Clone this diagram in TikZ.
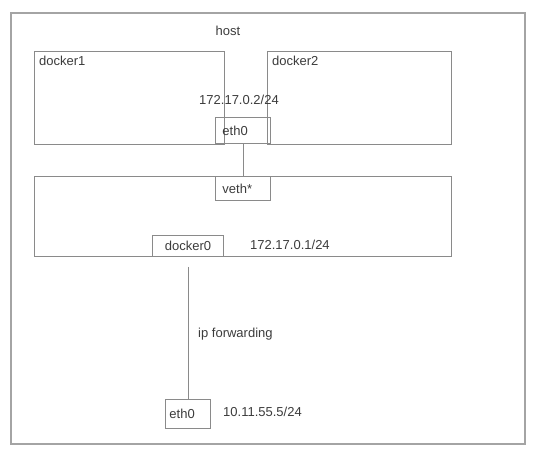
\documentclass[tikz,border=0pt]{standalone}
\usepackage{fontspec}
\setmainfont{Liberation Sans}
\begin{document}
\begin{tikzpicture}[x=1pt,y=-1pt,
  every node/.style={font=\fontsize{13}{15}\selectfont, text=txtc},
  box/.style={draw=linec, line width=0.9pt, rectangle, inner sep=0pt, anchor=north west},
  leftbox/.style={box, inner xsep=7pt, align=left},
  lbl/.style={inner sep=0pt}]
\definecolor{linec}{HTML}{8A8A8A}
\definecolor{hostc}{HTML}{A4A4A4}
\definecolor{txtc}{HTML}{3C3C3C}
\useasboundingbox (0,0) rectangle (550,458);
\fill[white] (0,0) rectangle (550,458);
% host
\node[box, draw=hostc, line width=2.2pt, minimum width=514pt, minimum height=431pt] (host) at (9.5,11.5) {};
\node[lbl] (hostlbl) at (228,31) {host};
% containers
\node[box, minimum width=190pt, minimum height=93pt] (d1) at (34,51) {};
\node[lbl, anchor=west] (d1lbl) at (39,61) {docker1};
\node[box, minimum width=184pt, minimum height=93pt] (d2) at (267,51) {};
\node[lbl, anchor=west] (d2lbl) at (272,61) {docker2};
\node[lbl] (ip1) at (239,100) {172.17.0.2/24};
\node[leftbox, text width=41pt, minimum height=26pt] (eth0c) at (215,117) {eth0};
% bridge
\node[box, minimum width=417pt, minimum height=80pt] (br) at (34,176) {};
\node[leftbox, text width=41pt, minimum height=24pt] (veth) at (215,176) {veth*};
\node[box, minimum width=71pt, minimum height=21pt] (docker0) at (152,235) {docker0};
\node[lbl, anchor=west] (ip2) at (250,245) {172.17.0.1/24};
% host eth0
\node[box, minimum width=45pt, minimum height=29pt, inner xsep=4pt, align=left, text width=37pt] (eth0h) at (165,399) {eth0};
\node[lbl, anchor=west] (ip3) at (223,412) {10.11.55.5/24};
\node[lbl, anchor=west] (ipf) at (198,334) {ip forwarding};
% connectors
\draw[linec, line width=0.9pt] (eth0c.south) -- (veth.north);
\draw[linec, line width=0.9pt] ([yshift=-10pt]docker0.south) -- (eth0h.north);
\end{tikzpicture}
\end{document}
